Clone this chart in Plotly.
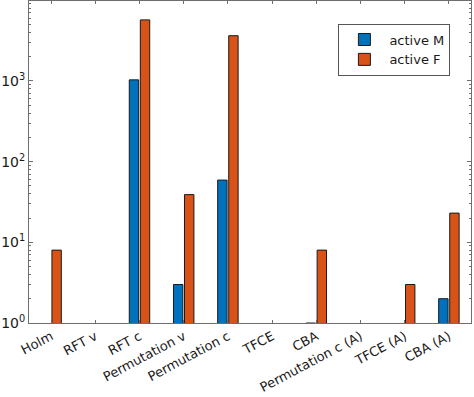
import plotly.graph_objects as go

categories = ["Holm", "RFT v", "RFT c", "Permutation v", "Permutation c",
              "TFCE", "CBA", "Permutation c (A)", "TFCE (A)", "CBA (A)"]
active_M = [None, None, 1030, 3, 59, None, 1, None, None, 2]
active_F = [8, None, 5700, 39, 3630, None, 8, None, 3, 23]

ytick_vals = [1, 10, 100, 1000]
ytick_text = ["10<sup>0</sup>", "10<sup>1</sup>", "10<sup>2</sup>", "10<sup>3</sup>"]
minor_vals = [m * d for d in (1, 10, 100, 1000) for m in range(2, 10)]

fig = go.Figure()
fig.add_trace(go.Bar(x=categories, y=active_M, name="active M",
                     marker=dict(color="#0072BD", line=dict(color="#1a1a1a", width=1))))
fig.add_trace(go.Bar(x=categories, y=active_F, name="active F",
                     marker=dict(color="#D95319", line=dict(color="#1a1a1a", width=1))))

axcol = "#6e6e6e"
fig.update_layout(
    width=474, height=397,
    margin=dict(l=29, r=3, t=1, b=74),
    paper_bgcolor="white", plot_bgcolor="white",
    barmode="group", bargap=0.5, bargroupgap=0.15,
    font=dict(family="DejaVu Sans", color="#1a1a1a", size=12),
    showlegend=True,
    legend=dict(x=0.70, y=0.93, xanchor="left", yanchor="top",
                bgcolor="white", bordercolor="#555", borderwidth=1,
                font=dict(size=13), tracegroupgap=6, itemwidth=40),
    xaxis=dict(showline=True, linecolor=axcol, linewidth=1, mirror="ticks",
               ticks="inside", ticklen=3, tickcolor=axcol,
               tickangle=-28, tickfont=dict(size=13), automargin=False,
               range=[-0.5, 9.5], showgrid=False),
    yaxis=dict(type="log", range=[0, 3.99], showline=True, linecolor=axcol,
               linewidth=1, mirror="ticks", ticks="inside", ticklen=4,
               tickcolor=axcol, tickvals=ytick_vals, ticktext=ytick_text,
               tickfont=dict(size=14), showgrid=False, zeroline=False,
               automargin=False,
               minor=dict(ticks="inside", ticklen=2, tickcolor=axcol,
                          tickvals=minor_vals, showgrid=False)),
)

fig.write_html("out.html", config=dict(responsive=False, displayModeBar=False),
               post_script="document.body.style.margin='0';document.body.style.overflow='hidden';")
